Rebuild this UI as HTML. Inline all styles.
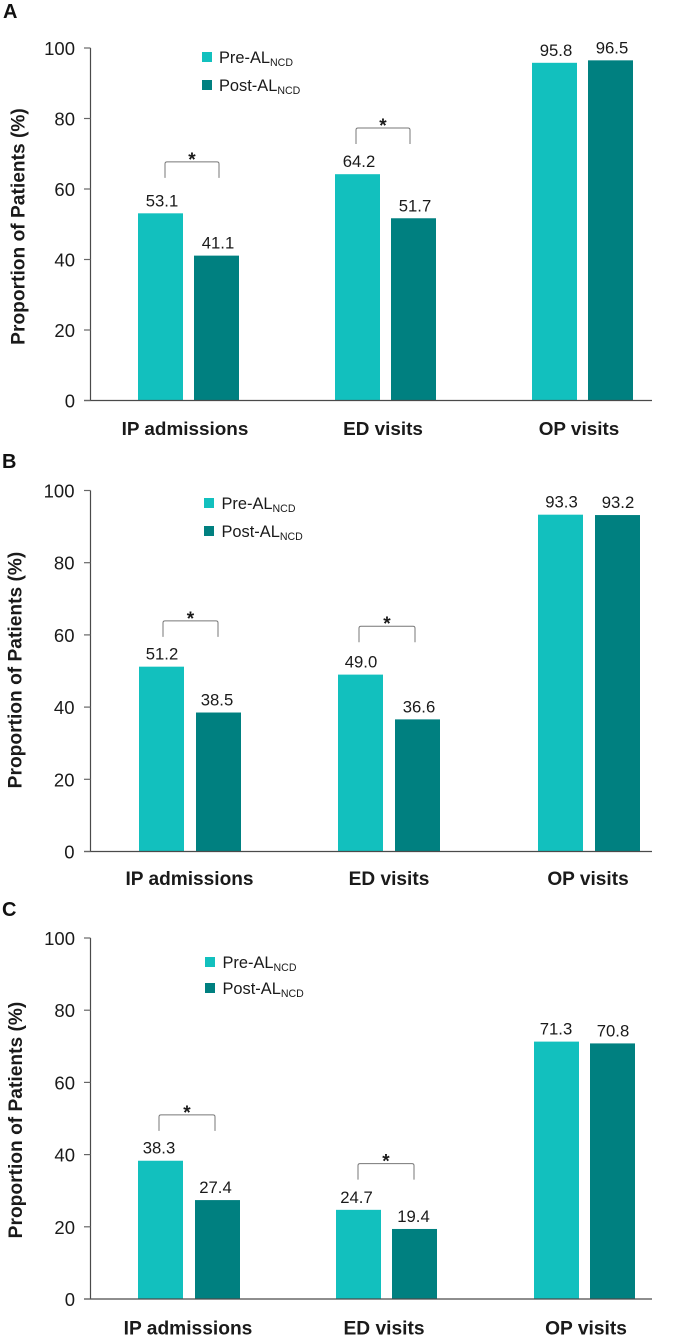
<!DOCTYPE html>
<html><head><meta charset="utf-8"><title>Healthcare resource use</title>
<style>
html,body{margin:0;padding:0;background:#fff;width:685px;height:1337px;overflow:hidden}
svg{display:block;font-family:"Liberation Sans",Arial,sans-serif}
</style></head>
<body>
<svg id="chart" width="685" height="1337" viewBox="0 0 685 1337" xmlns="http://www.w3.org/2000/svg"></svg>
<script>
const categories = ["IP admissions", "ED visits", "OP visits"];
const seriesNames = ["Pre-AL", "Post-AL"];
const seriesColors = ["#12c0be", "#008080"];
const yTicks = [0, 20, 40, 60, 80, 100];
const panelLetters = ["A", "B", "C"];
const preA = [53.1, 64.2, 95.8];
const postA = [41.1, 51.7, 96.5];
const preB = [51.2, 49.0, 93.3];
const postB = [38.5, 36.6, 93.2];
const preC = [38.3, 24.7, 71.3];
const postC = [27.4, 19.4, 70.8];
const bracketA = [67.7, 77.3, null];
const bracketB = [63.9, 62.4, null];
const bracketC = [51.0, 37.5, null];
const preAll = [preA, preB, preC];
const postAll = [postA, postB, postC];
const bracketAll = [bracketA, bracketB, bracketC];

const NS = "http://www.w3.org/2000/svg";
const root = document.getElementById("chart");
const layouts = [
  {yTop:48, yBase:400.5, barX:[[138,194],[335,391],[532,588]], labelDx:[[1.5,1.5],[1.5,1.5],[1.5,1.5]], catX:[185,383,579], catY:435, catFont:18.9, letterX:3, letterY:18, legX:202, legY:[57,85], textDx:17, bx:[[165,219],[356,410]], titleX:24.5, titleY:226.5, tickEnd:75},
  {yTop:490.5, yBase:851.5, barX:[[139,196],[338,395],[538,595]], labelDx:[[0.5,-1.5],[0.5,1.5],[1,0.5]], catX:[189.5,389,588], catY:885, catFont:19.1, letterX:2, letterY:468, legX:204, legY:[503,531], textDx:17.5, bx:[[163,218],[359,415]], titleX:21.5, titleY:670, tickEnd:74.5},
  {yTop:938, yBase:1299, barX:[[138,195],[336,392],[534,590]], labelDx:[[-1.5,-2],[-2,-1],[-0.5,0.5]], catX:[188,384,586], catY:1334.5, catFont:19.2, letterX:2, letterY:916, legX:205, legY:[962,988], textDx:17.5, bx:[[159,215],[358,414]], titleX:22, titleY:1120, tickEnd:75}
];
const barW = 45;

function make(tag, attrs, parent, text) {
  const el = document.createElementNS(NS, tag);
  for (const k in attrs) el.setAttribute(k, attrs[k]);
  if (text !== undefined) el.textContent = text;
  parent.appendChild(el);
  return el;
}

layouts.forEach(function (L, p) {
  const yScale = function (v) { return L.yBase - (v / 100) * (L.yBase - L.yTop); };
  const panel = make("g", {}, root);
  
  

  const letter = make("text", {x:L.letterX, y:L.letterY, "font-size":20, "font-weight":"bold", fill:"#111"}, panel, panelLetters[p]);
  
  

  const title = make("text", {x:0, y:0, "font-size":19.2, "font-weight":"bold", fill:"#1a1a1a", "text-anchor":"middle", transform:"translate(" + L.titleX + "," + L.titleY + ") rotate(-90)"}, panel, "Proportion of Patients (%)");
  
  

  categories.forEach(function (c, i) {
    const vals = [preAll[p][i], postAll[p][i]];
    vals.forEach(function (v, s) {
      const x = L.barX[i][s];
      const bar = make("rect", {x:x, y:yScale(v), width:barW, height:L.yBase - yScale(v), fill:seriesColors[s]}, panel);
      
      
      const lab = make("text", {x:x + barW / 2 + L.labelDx[i][s], y:yScale(v) - 7, "font-size":16.7, fill:"#1a1a1a", "text-anchor":"middle"}, panel, v.toFixed(1));
      
      
    });
    const cat = make("text", {x:L.catX[i], y:L.catY, "font-size":L.catFont, "font-weight":"bold", fill:"#1a1a1a", "text-anchor":"middle"}, panel, c);
    
    

    const b = bracketAll[p][i];
    if (b !== null) {
      const top = yScale(b);
      const xs = L.bx[i];
      const path = make("path", {d:"M" + xs[0] + " " + (top + 16) + "V" + (top + 2) + "Q" + xs[0] + " " + top + " " + (xs[0] + 2) + " " + top + "H" + (xs[1] - 2) + "Q" + xs[1] + " " + top + " " + xs[1] + " " + (top + 2) + "V" + (top + 16), fill:"none", stroke:"#777", "stroke-width":1}, panel);
      
      
      const star = make("text", {x:(xs[0] + xs[1]) / 2, y:top + 4, "font-size":19, "font-weight":"bold", fill:"#1a1a1a", "text-anchor":"middle"}, panel, "*");
      
      
    }
  });

  const axisY = make("line", {x1:90.5, x2:90.5, y1:yScale(100), y2:L.yBase, stroke:"#4a4a4a", "stroke-width":1.2}, panel);
  
  
  const axisX = make("line", {x1:84, x2:652, y1:L.yBase, y2:L.yBase, stroke:"#4a4a4a", "stroke-width":1.2}, panel);
  
  

  yTicks.forEach(function (t) {
    const y = yScale(t);
    const tick = make("line", {x1:84, x2:90.5, y1:y, y2:y, stroke:"#666", "stroke-width":1.2}, panel);
    
    
    const lab = make("text", {x:L.tickEnd, y:y + 7, "font-size":18.5, fill:"#1a1a1a", "text-anchor":"end"}, panel, String(t));
    
    
  });

  seriesNames.forEach(function (n, s) {
    const sw = make("rect", {x:L.legX, y:L.legY[s] - 5, width:10, height:10, fill:seriesColors[s]}, panel);
    
    
    const t = make("text", {x:L.legX + L.textDx, y:L.legY[s] + 6, "font-size":16.4, fill:"#1a1a1a"}, panel, n);
    
    
    make("tspan", {dy:3, "font-size":10.6}, t, "NCD");
  });
});
</script>
</body></html>
